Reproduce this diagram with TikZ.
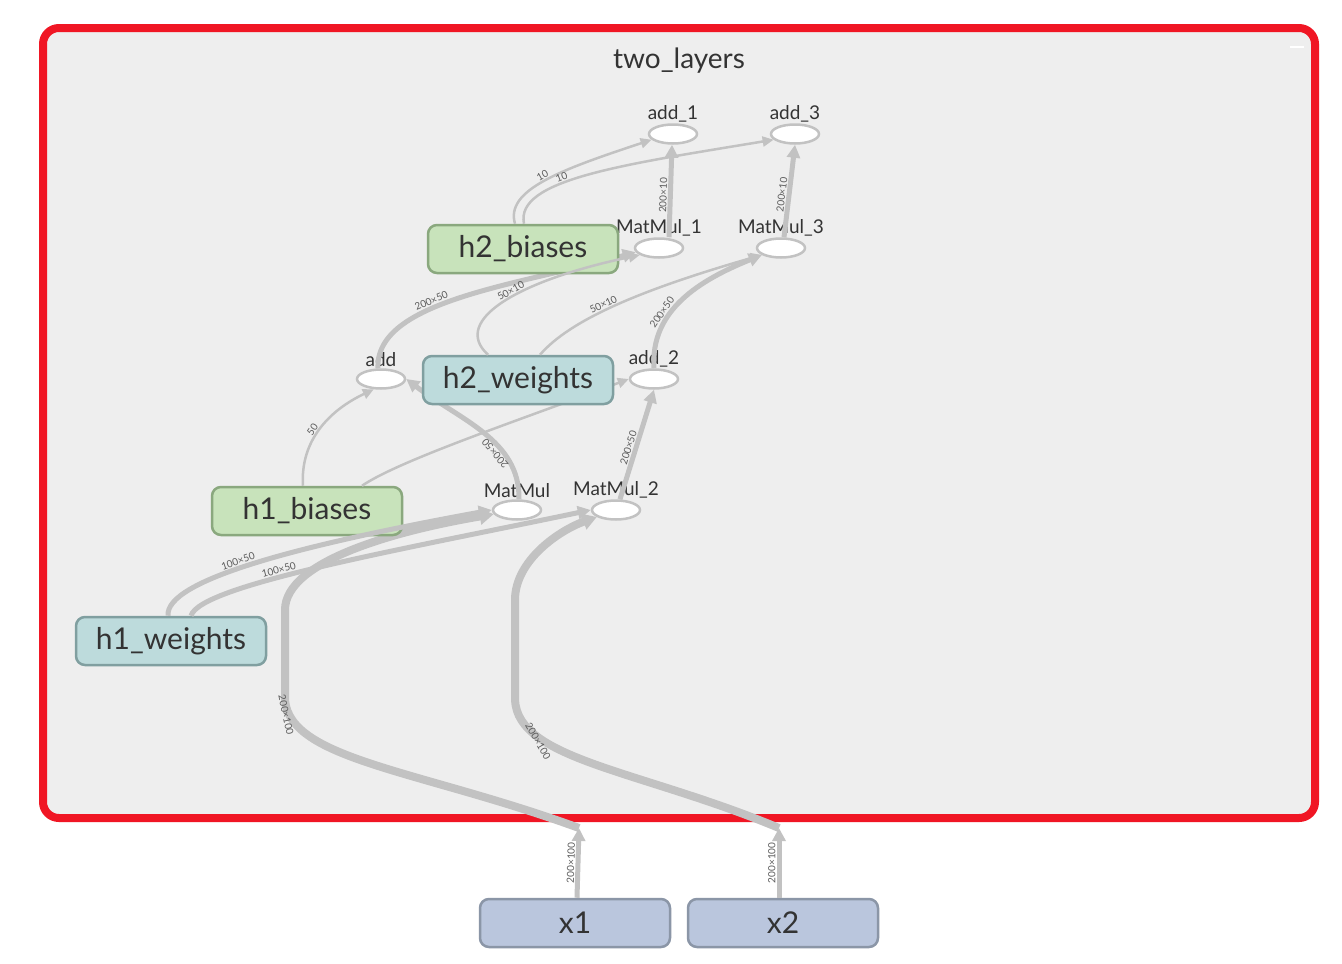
\documentclass[tikz,border=0pt]{standalone}
\usepackage{fontspec}
\setmainfont{Lato}
\usetikzlibrary{arrows.meta,shapes.geometric}
\definecolor{edge}{HTML}{C2C2C2}
\definecolor{bg}{HTML}{EEEEEE}
\definecolor{gfill}{HTML}{C8E3BB}\definecolor{gdraw}{HTML}{8AA87E}
\definecolor{bfill}{HTML}{BDDBDC}\definecolor{bdraw}{HTML}{809FA0}
\definecolor{xfill}{HTML}{BAC6DD}\definecolor{xdraw}{HTML}{8B96A7}
\definecolor{txt}{HTML}{333333}
\begin{document}
\begin{tikzpicture}[x=1pt,y=-1pt,
  box/.style={draw=#1, line width=2.5pt, rounded corners=9pt, minimum width=190pt, minimum height=48pt, text=txt, font=\fontsize{30}{30}\selectfont},
  op/.style={ellipse, draw=edge, fill=white, line width=2.5pt, minimum width=48pt, minimum height=19pt, inner sep=0pt,
    label={[text=txt, font=\fontsize{19}{19}\selectfont, yshift=-2pt]above:#1}},
  e/.style={draw=edge, line width=2.5pt, -{Triangle[length=11pt,width=10pt]}},
  em/.style={draw=edge, line width=5pt, -{Triangle[length=13pt,width=13pt]}},
  et/.style={draw=edge, line width=8pt, -{Triangle[length=14pt,width=16pt]}},
  lb/.style={text=txt!80, font=\fontsize{10}{10}\selectfont, inner sep=1pt, sloped},
]
\useasboundingbox (0,0) rectangle (1342,964);
\fill[white] (0,0) rectangle (1342,964);
\draw[line width=8pt, draw={rgb,255:red,240;green,22;blue,36}, fill=bg, rounded corners=16pt] (43,28) rectangle (1315,818);
\draw[line width=2.5pt, white] (1290,47) -- (1304,47);
\node[text=txt, font=\fontsize{28}{28}\selectfont] (title) at (679,61) {two\_layers};

% ops
\node[op=add\_1] (add1) at (673,134) {};
\node[op=add\_3] (add3) at (795,134) {};
\node[op=MatMul\_1] (mm1) at (659,248) {};
\node[op=MatMul\_3] (mm3) at (781,248) {};
\node[op=add] (add) at (381,379) {};
\node[op=add\_2] (add2) at (654,379) {};
\node[op=MatMul] (mm) at (517,510) {};
\node[op=MatMul\_2] (mm2) at (616,510) {};

% edges (drawn before boxes)
\coordinate (in1) at (579,828);
\coordinate (in2) at (779,828);
\draw[et] (in1) .. controls (420,770) and (290,760) .. (285,700) -- (285,610)
  .. controls (285,560) and (400,530) .. (mm.190);
\node[lb, rotate=-78] at (286,715) {200×100};
\draw[et] (in2) .. controls (640,770) and (518,760) .. (515,700) -- (515,600)
  .. controls (515,560) and (560,530) .. (mm2.200);
\node[lb, rotate=-60] at (538,741) {200×100};
\draw[em] ([xshift=-3pt]add.north) .. controls (375,300) and (520,285) .. (mm1.190)
  node[lb, above, pos=0.4] {200×50};
\draw[em] (add2.north) .. controls (650,310) and (700,280) .. (mm3.200)
  node[lb, above, pos=0.35] {200×50};
\draw[em] ([xshift=2pt]mm.north) .. controls (520,440) and (460,420) .. (add.east)
  node[lb, above, pos=0.35, allow upside down] {200×50};
\draw[em] ([xshift=4pt]mm2.north) -- (add2.south) node[lb, above, pos=0.45] {200×50};
\draw[em] ([xshift=10pt]mm1.north) -- ([xshift=-1pt]add1.south) node[lb, above, pos=0.45] {200×10};
\draw[em] ([xshift=3pt]mm3.north) -- (add3.south) node[lb, above, pos=0.45] {200×10};

\node[box=bdraw, fill=bfill] (h1w) at (171,641) {h1\_weights};
\node[box=gdraw, fill=gfill] (h1b) at (307,511) {h1\_biases};
\draw[em] ([xshift=-3pt]h1w.north) .. controls (165,580) and (300,545) .. (mm.west)
  node[lb, above, pos=0.45] {100×50};
\draw[em] ([xshift=20pt]h1w.north) .. controls (200,585) and (400,550) .. (mm2.west)
  node[lb, above, pos=0.4] {100×50};
\draw[e] ([xshift=-4pt]h1b.north) .. controls (300,440) and (330,410) .. (add.235)
  node[lb, above, pos=0.45] {50};
\draw[e] ([xshift=55pt]h1b.north) .. controls (400,460) and (520,420) .. (add2.west);

\node[box=bdraw, fill=bfill] (h2w) at (518,380) {h2\_weights};
\node[box=gdraw, fill=gfill] (h2b) at (523,249) {h2\_biases};
\draw[e] ([xshift=-30pt]h2w.north) .. controls (450,320) and (520,280) .. (mm1.200)
  node[lb, above, pos=0.55] {50×10};
\draw[e] ([xshift=22pt]h2w.north) .. controls (570,320) and (640,290) .. (mm3.200)
  node[lb, above, pos=0.45] {50×10};
\draw[e] ([xshift=-8pt]h2b.north) .. controls (505,190) and (560,170) .. (add1.195)
  node[lb, above, pos=0.5] {10};
\draw[e] ([xshift=1pt]h2b.north) .. controls (515,180) and (620,165) .. (add3.195)
  node[lb, above, pos=0.4] {10};

\node[box=xdraw, fill=xfill] (x1) at (575,923) {x1};
\node[box=xdraw, fill=xfill] (x2) at (783,923) {x2};
\draw[em] ([xshift=2pt]x1.north) -- (in1) node[lb, above, midway] {200×100};
\draw[em] ([xshift=-4pt]x2.north) -- (in2) node[lb, above, midway] {200×100};
\end{tikzpicture}
\end{document}
